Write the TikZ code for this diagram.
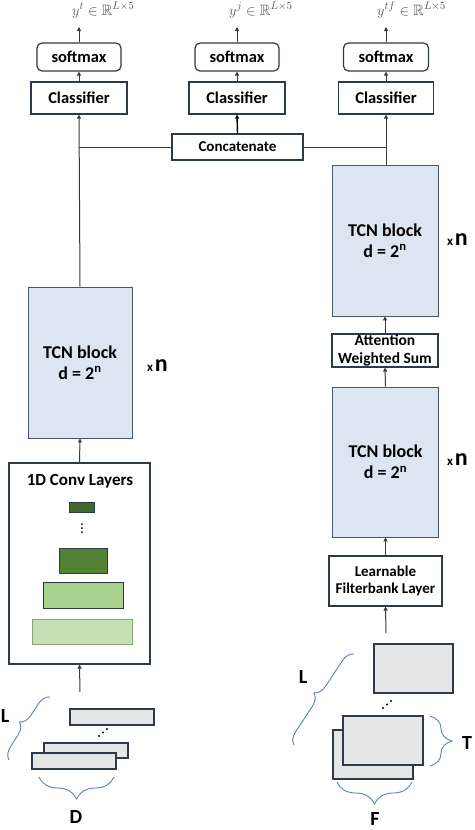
\documentclass[tikz,border=0pt]{standalone}
\usepackage{amssymb}
\usepackage{fontspec}
\setmainfont{Carlito}
\usetikzlibrary{arrows.meta,decorations.pathreplacing}
\definecolor{bordc}{HTML}{2E3A4A}
\definecolor{tcnfill}{HTML}{DCE6F2}
\definecolor{tcnbord}{HTML}{4A5566}
\definecolor{gA}{HTML}{3F6B2A}
\definecolor{gB}{HTML}{548235}
\definecolor{gC}{HTML}{A9D18E}
\definecolor{gD}{HTML}{C5E0B4}
\definecolor{infill}{HTML}{E7E6E6}
\definecolor{bracec}{HTML}{5B7FC4}
\definecolor{linec}{HTML}{3A3A3A}
\definecolor{mathc}{HTML}{555555}
\tikzset{
  box/.style={draw=bordc, line width=1.2pt, fill=white, inner sep=0pt, align=center,
    font=\fontsize{16.5}{18}\selectfont\bfseries},
  softbox/.style={box, rounded corners=5pt},
  smallbox/.style={draw=bordc, line width=1.2pt, fill=white, inner sep=0pt, align=center,
    font=\fontsize{15}{17}\selectfont\bfseries},
  tcn/.style={draw=tcnbord, line width=0.9pt, fill=tcnfill, inner sep=0pt, align=center,
    font=\fontsize{18}{21}\selectfont\bfseries},
  convbox/.style={draw=bordc, line width=1.2pt, fill=white, inner sep=0pt},
  layer/.style={draw=bordc, line width=0.8pt, inner sep=0pt},
  inrect/.style={draw=bordc, line width=1.1pt, fill=infill, inner sep=0pt},
  conn/.style={draw=linec, line width=1pt},
  arr/.style={conn, -{Triangle[length=4pt,width=4pt]}},
  brc/.style={draw=bracec, line width=0.9pt, decorate},
  dimlab/.style={font=\fontsize{20}{22}\selectfont\bfseries},
  mlab/.style={text=mathc, font=\fontsize{15}{17}\selectfont, inner sep=0pt},
  dotc/.style={fill=black, draw=none, circle, inner sep=0pt, minimum size=2.3pt},
  reps/.style={inner sep=0pt}
}
\newcommand{\timesn}{{\fontsize{13}{14}\selectfont\bfseries x}\,{\fontsize{24}{24}\selectfont\bfseries n}}
\begin{document}
\begin{tikzpicture}[x=1pt,y=-1pt]
\useasboundingbox (0,0) rectangle (474,830);
% top labels
\node[mlab, anchor=base west] (ot) at (72,15) {$y^t \in \mathbb{R}^{L\times 5}$};
\node[mlab, anchor=base west] (oj) at (229,15) {$y^j \in \mathbb{R}^{L\times 5}$};
\node[mlab, anchor=base west] (otf) at (377,15) {$y^{tf} \in \mathbb{R}^{L\times 5}$};
\coordinate (tl) at (79,27);
\coordinate (tm) at (237,27);
\coordinate (tr) at (386,27);
% softmax
\node[softbox, minimum width=84pt, minimum height=28pt] (s1) at (79,57) {softmax};
\node[softbox, minimum width=84pt, minimum height=28pt] (s2) at (237,57) {softmax};
\node[softbox, minimum width=85pt, minimum height=28pt] (s3) at (386,57) {softmax};
% classifiers
\node[box, minimum width=96pt, minimum height=32pt] (c1) at (79,98) {Classifier};
\node[box, minimum width=96pt, minimum height=32pt] (c2) at (237,98) {Classifier};
\node[box, minimum width=95pt, minimum height=32pt] (c3) at (386,98) {Classifier};
% concatenate
\node[smallbox, minimum width=131pt, minimum height=26pt] (cat) at (237.5,147) {Concatenate};
% left branch
\node[tcn, minimum width=104pt, minimum height=151pt] (tcnL) at (80,362.5) {TCN block\\d = 2\textsuperscript{n}};
\node[reps, anchor=west] (xnL) at (147,366) {\timesn};
\node[convbox, minimum width=141pt, minimum height=201pt] (conv) at (79.5,563.5) {};
\node[font=\fontsize{17}{18}\selectfont\bfseries] (convt) at (80,481) {1D Conv Layers};
\node[layer, fill=gA, minimum width=25pt, minimum height=10pt] (g1) at (81.5,507) {};
\node[dotc, minimum size=2pt] (vd1) at (82,524) {};
\node[dotc, minimum size=2pt] (vd2) at (82,528) {};
\node[dotc, minimum size=2pt] (vd3) at (82,532) {};
\node[layer, fill=gB, minimum width=48pt, minimum height=25pt] (g2) at (83,560.5) {};
\node[layer, fill=gC, minimum width=80pt, minimum height=26pt] (g3) at (83,595) {};
\node[layer, draw=gC!80!black, fill=gD, minimum width=100pt, minimum height=25pt] (g4) at (82,631.5) {};
\node[inrect, minimum width=84pt, minimum height=16pt] (in1) at (112,717) {};
\node[dotc] (ld1) at (99,736) {};
\node[dotc] (ld2) at (103,732.5) {};
\node[dotc] (ld3) at (107,729) {};
\node[inrect, minimum width=84pt, minimum height=15pt] (in2) at (86,750.5) {};
\node[inrect, minimum width=84pt, minimum height=16pt] (in3) at (74,761) {};
\coordinate (inL) at (80,692);
% left braces
\coordinate (bL1) at (9,760);
\coordinate (bL2) at (50,697);
\draw[brc, decoration={brace, amplitude=12pt}] (bL1) -- (bL2);
\node[dimlab] (labL1) at (5,716) {L};
\coordinate (bD1) at (114,777);
\coordinate (bD2) at (39,777);
\draw[brc, decoration={brace, amplitude=22pt}] (bD1) -- (bD2);
\node[dimlab] (labD) at (76,817) {D};
% right branch
\node[tcn, minimum width=106pt, minimum height=151pt] (tcnR2) at (385,240.5) {TCN block\\d = 2\textsuperscript{n}};
\node[reps, anchor=west] (xnR2) at (447,240) {\timesn};
\node[smallbox, font=\fontsize{15.5}{18}\selectfont\bfseries, minimum width=106pt, minimum height=33pt] (att) at (385,350.5) {Attention\\Weighted Sum};
\node[tcn, minimum width=106pt, minimum height=150pt] (tcnR1) at (385.5,462) {TCN block\\d = 2\textsuperscript{n}};
\node[reps, anchor=west] (xnR1) at (447,460) {\timesn};
\node[smallbox, minimum width=113pt, minimum height=50pt] (lfb) at (385.5,581) {Learnable\\Filterbank Layer};
\coordinate (inR) at (386,633);
\node[inrect, minimum width=79pt, minimum height=49pt] (r1) at (413.5,668.5) {};
\node[dotc] (rd1) at (383,708) {};
\node[dotc] (rd2) at (387,704.5) {};
\node[dotc] (rd3) at (391,701) {};
\node[inrect, minimum width=80pt, minimum height=49pt] (r3) at (373,754.5) {};
\node[inrect, minimum width=80pt, minimum height=49pt] (r2) at (383,740.5) {};
% right braces
\coordinate (bR1) at (294,745);
\coordinate (bR2) at (354,654);
\draw[brc, decoration={brace, amplitude=12pt}] (bR1) -- (bR2);
\node[dimlab] (labL2) at (303,677) {L};
\coordinate (bT1) at (430,716);
\coordinate (bT2) at (430,766);
\draw[brc, decoration={brace, amplitude=22pt}] (bT1) -- (bT2);
\node[dimlab] (labT) at (467,743) {T};
\coordinate (bF1) at (412,782);
\coordinate (bF2) at (337,782);
\draw[brc, decoration={brace, amplitude=22pt}] (bF1) -- (bF2);
\node[dimlab] (labF) at (375,819) {F};
% connectors
\draw[arr] (s1.north) -- (tl);
\draw[arr] (s2.north) -- (tm);
\draw[arr] (s3.north) -- (tr);
\draw[arr] (c1.north) -- (s1.south);
\draw[arr] (c2.north) -- (s2.south);
\draw[arr] (c3.north) -- (s3.south);
\draw[arr] (tcnL.north) -- (c1.south);
\draw[arr, line width=1.4pt, draw=black] (cat.north) -- (c2.south);
\draw[arr] (tcnR2.north -| c3.south) -- (c3.south);
\draw[conn] (cat.west) -- (cat.west -| c1.south);
\draw[conn] (cat.east) -- (cat.east -| c3.south);
\draw[arr] (conv.north) -- (tcnL.south);
\draw[arr] (inL) -- (conv.south);
\draw[arr] (att.north) -- (tcnR2.south);
\draw[arr] (tcnR1.north) -- (att.south);
\draw[arr] (lfb.north) -- (tcnR1.south);
\draw[arr] (inR) -- (lfb.south);
\end{tikzpicture}
\end{document}
